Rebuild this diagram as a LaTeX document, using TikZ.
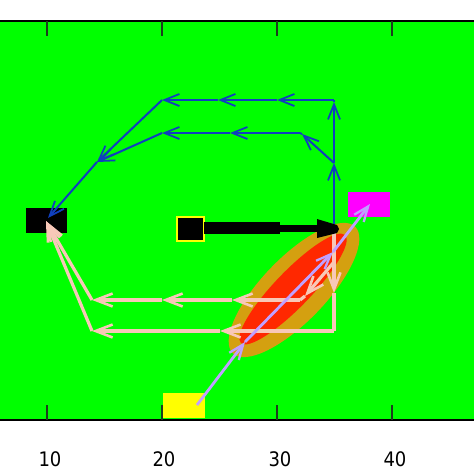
\documentclass[tikz,border=0pt]{standalone}
\usepackage{fontspec}
\newfontfamily\axfont{DejaVu Sans Condensed}
\usetikzlibrary{arrows.meta}
\definecolor{greenbg}{RGB}{0,255,0}
\definecolor{bluec}{RGB}{16,64,190}
\definecolor{pinkc}{RGB}{248,200,184}
\definecolor{purplec}{RGB}{192,160,255}
\definecolor{orangec}{RGB}{212,160,16}
\definecolor{redc}{RGB}{255,40,0}
\definecolor{magc}{RGB}{255,0,255}
\definecolor{yelc}{RGB}{255,255,0}
\definecolor{tickc}{RGB}{30,60,30}
\tikzset{
  blueln/.style={draw=bluec, line width=2pt, line join=round,
    -{Straight Barb[length=15pt,width=12pt,line width=1.8pt]}},
  pinkln/.style={draw=pinkc, line width=3.2pt, line join=round,
    -{Straight Barb[length=17pt,width=13pt,line width=2.6pt]}},
  purpln/.style={draw=purplec, line width=2.8pt, line join=round,
    -{Straight Barb[length=15pt,width=12pt,line width=2.3pt]}},
  boxnode/.style={draw=none, inner sep=0pt, outer sep=0pt},
  lab/.style={font=\axfont\fontsize{20}{22}\selectfont, inner sep=0pt},
  tick/.style={draw=tickc, line width=1.2pt}
}
\begin{document}
\begin{tikzpicture}[x=1pt,y=-1pt]
\useasboundingbox (0,0) rectangle (474,474);
\fill[white] (0,0) rectangle (474,474);
\fill[greenbg] (0,21) rectangle (474,420);
% axes
\draw[line width=1.6pt] (0,21) -- (474,21);
\draw[line width=1.6pt] (0,420) -- (474,420);
\foreach \x in {47,162,277,392}{
  \draw[tick] (\x,21) -- (\x,36);
  \draw[tick] (\x,405) -- (\x,420);
}
\node[lab] (l10) at (50,459) {10};
\node[lab] (l20) at (164,459) {20};
\node[lab] (l30) at (280,459) {30};
\node[lab] (l40) at (395,459) {40};
% ellipses
\fill[orangec, rotate around={46:(294,290)}] (294,290) ellipse [x radius=88pt, y radius=32pt];
\fill[redc, rotate around={46:(293,289)}] (293,289) ellipse [x radius=75pt, y radius=18pt];
% boxes
\node[boxnode, fill=black, minimum width=41pt, minimum height=25pt] (lbox) at (46.5,220.5) {};
\node[boxnode, fill=magc, minimum width=42pt, minimum height=25pt] (mbox) at (369,204.5) {};
\node[boxnode, fill=yelc, minimum width=42pt, minimum height=25pt] (ybox) at (184,405.5) {};
\node[boxnode, fill=black, draw=yelc, line width=1.3pt, minimum width=27pt, minimum height=24pt] (sbox) at (190.5,229) {};
% coordinates
\coordinate (bA) at (334,224);
\coordinate (bB) at (334,163);
\coordinate (bC) at (334,102);
\coordinate (bD) at (334,100);
\coordinate (bE) at (277,100);
\coordinate (bF) at (218,100);
\coordinate (bG) at (162,100);
\coordinate (bH) at (97,162);
\coordinate (bI) at (48,218);
\coordinate (bJ) at (302,134);
\coordinate (bK) at (300,133);
\coordinate (bL) at (230,133);
\coordinate (bM) at (162,133);
% blue path 1
\draw[blueln] (bA) -- (bB);
\draw[blueln] (bB) -- (bC);
\draw[bluec, line width=2pt] (bC) -- (bD);
\draw[blueln] (bD) -- (bE);
\draw[blueln] (bE) -- (bF);
\draw[blueln] (bF) -- (bG);
\draw[blueln] (bG) -- (bH);
\draw[blueln] (bH) -- (bI);
% blue path 2
\draw[blueln] (bB) -- (bJ);
\draw[bluec, line width=2pt] (bJ) -- (bK);
\draw[blueln] (bK) -- (bL);
\draw[blueln] (bL) -- (bM);
\draw[blueln] (bM) -- (bH);
% pink coordinates
\coordinate (pA) at (334,233);
\coordinate (pB) at (334,293);
\coordinate (pC) at (334,331);
\coordinate (pD) at (220,331);
\coordinate (pE) at (92,331);
\coordinate (pF) at (46,221);
\coordinate (pG) at (334,262);
\coordinate (pH) at (305,296);
\coordinate (pI) at (300,300);
\coordinate (pJ) at (232,300);
\coordinate (pK) at (162,300);
\coordinate (pL) at (92,300);
% pink path A
\draw[pinkln] (pA) -- (pB);
\draw[pinkc, line width=3.2pt] (pB) -- (pC);
\draw[pinkln] (pC) -- (pD);
\draw[pinkln] (pD) -- (pE);
\draw[pinkln] (pE) -- (pF);
% pink path B
\draw[pinkln] (pG) -- (pH);
\draw[pinkc, line width=3.2pt] (pH) -- (pI);
\draw[pinkln] (pI) -- (pJ);
\draw[pinkln] (pJ) -- (pK);
\draw[pinkln] (pK) -- (pL);
\draw[pinkln] (pL) -- (pF);
% purple path
\coordinate (uA) at (197,405);
\coordinate (uB) at (245,342);
\coordinate (uC) at (333,252);
\coordinate (uD) at (370,204);
\draw[purpln] (uA) -- (uB);
\draw[purpln] (uB) -- (uC);
\draw[purpln] (uC) -- (uD);
% black thick arrow
\fill[black] (204,222) rectangle (280,234);
\fill[black] (279,225) rectangle (318,232);
\fill[black] (317,219) -- (337,225) -- (339,229) -- (337,233) -- (317,238) -- cycle;
\end{tikzpicture}
\end{document}
